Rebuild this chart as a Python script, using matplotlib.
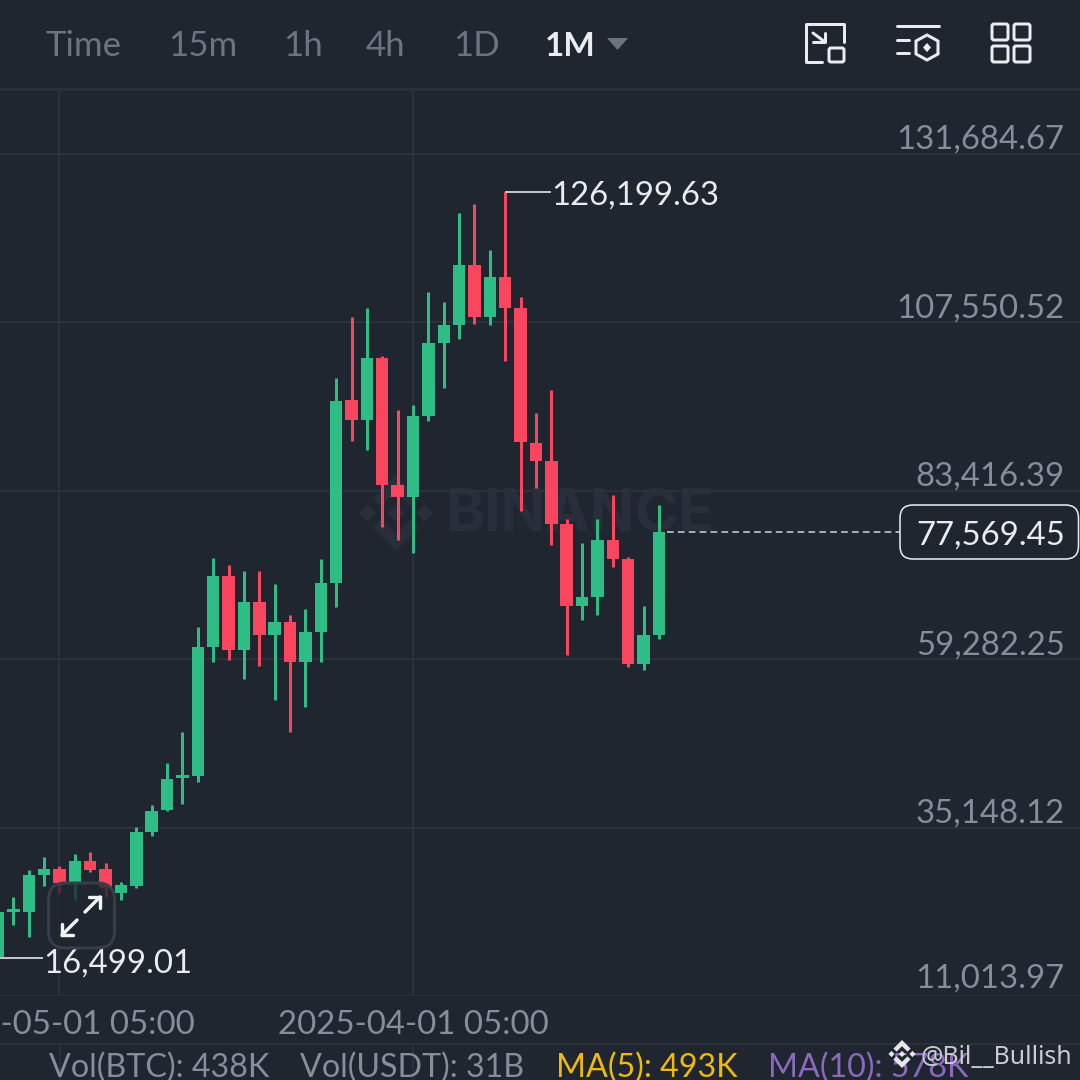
import matplotlib
matplotlib.use("Agg")
import matplotlib.pyplot as plt
from matplotlib.patches import FancyBboxPatch, Polygon
from matplotlib.transforms import Affine2D

FONT = "Lato"
plt.rcParams["font.family"] = [FONT, "DejaVu Sans"]

# ---- data --------------------------------------------------------------
opens = [16600, 23051, 23051, 28353, 29213, 27350, 30360, 29213, 25774, 26777, 34515,
         37668, 42254, 42540, 61026, 71200, 60596, 67474, 62745, 64608, 58876, 63175,
         70197, 96421, 93555, 102440, 84240, 82521, 94128, 104589, 107168, 115766,
         108315, 114047, 109605, 90259, 87680, 78652, 66901, 68191, 76359, 73636,
         58590, 62745]
highs = [23200, 25201, 29070, 30933, 29643, 31363, 31649, 30073, 27350, 35232, 38384,
         44403, 48845, 63892, 73780, 72776, 71917, 71917, 70054, 65611, 66471, 73636,
         99574, 108315, 109605, 102726, 94988, 95704, 111897, 110464, 123218, 124508,
         117916, 126199.63, 111181, 94558, 97854, 79368, 75929, 79368, 82807, 73923,
         66901, 81374]
lows = [16499.01, 21188, 19469, 26777, 25774, 24771, 28783, 25201, 24771, 26491, 33942,
        37525, 38528, 41680, 58876, 59163, 56440, 58303, 53431, 48845, 52428, 58876,
        66758, 90546, 89256, 78222, 76359, 74496, 93412, 98141, 105162, 107312,
        107168, 102010, 80515, 83811, 75642, 59879, 64895, 65611, 72490, 58160,
        57730, 62172]
closes = [23051, 23481, 28353, 29213, 27207, 30360, 29070, 26491, 26920, 34515, 37525,
          42110, 42683, 61026, 71200, 60596, 67474, 62745, 64608, 58876, 63175, 70197,
          96278, 93555, 102440, 84240, 82521, 94128, 104589, 107168, 115766, 108315,
          114047, 109605, 90402, 87680, 78652, 66901, 68191, 76359, 73636, 58590,
          62745, 77569.45]

price_levels = [131684.67, 107550.52, 83416.39, 59282.25, 35148.12, 11013.97]
date_ticks = [4, 27]
date_labels = ["2023-05-01 05:00", "2025-04-01 05:00"]
last_price = 77569.45
max_price = 126199.63
min_price = 16499.01
tabs = ["Time", "15m", "1h", "4h", "1D"]
legend_items = ["Vol(BTC): 438K", "Vol(USDT): 31B", "MA(5): 493K", "MA(10): 578K"]

# ---- palette -----------------------------------------------------------
BG = "#1F2630"
GRID = "#2B313C"
GREEN = "#2EBD85"
RED = "#F9455E"
GREY = "#868E9B"
TAB = "#6C7480"
WHITE = "#EAECEF"
PX = 0.72  # one pixel in points at dpi 100
NUM = 23.7

fig = plt.figure(figsize=(10.8, 10.8), dpi=100, facecolor=BG)

# background layer in pixels: watermark
bg = fig.add_axes([0, 0, 1, 1], zorder=0)
bg.set_xlim(0, 1080); bg.set_ylim(1080, 0); bg.axis("off")
bg.set_facecolor(BG)


def binance_logo(ax, cx, cy, s, color, z=1):
    """Binance mark centred at cx, cy; s is half of the total height."""
    k = s / 36.0
    d = lambda x, y, r: Polygon([(x, y - r), (x + r, y), (x, y + r), (x - r, y)],
                                closed=True, fc=color, ec="none", zorder=z)
    ax.add_patch(d(cx, cy, 8 * k))
    ax.add_patch(d(cx - 27 * k, cy, 8 * k))
    ax.add_patch(d(cx + 27 * k, cy, 8 * k))
    for sgn in (-1, 1):
        pts = [(cx, cy + sgn * 36 * k), (cx + 22 * k, cy + sgn * 14 * k),
               (cx + 14 * k, cy + sgn * 6 * k), (cx, cy + sgn * 20 * k),
               (cx - 14 * k, cy + sgn * 6 * k), (cx - 22 * k, cy + sgn * 14 * k)]
        ax.add_patch(Polygon(pts, closed=True, fc=color, ec="none", zorder=z))


binance_logo(bg, 396, 513, 38, "#292F3A")
bg.text(445, 532, "BINANCE", color="#292F3A", fontsize=42.5, fontweight="bold",
        ha="left", va="baseline", family=["Inter", "DejaVu Sans"])

# chart layer, scaled in candle index and price
TOP, BOT = 90, 996
STEP = (price_levels[0] - price_levels[1]) / 168.4
ax = fig.add_axes([0, (1080 - BOT) / 1080, 1, (BOT - TOP) / 1080], zorder=1)
ax.patch.set_alpha(0)
ax.set_xlim(2 / 15.37, 1082 / 15.37)
ax.set_ylim(price_levels[-1], price_levels[-1] + (BOT - TOP) * STEP)
for s in ax.spines.values():
    s.set_visible(False)

ax.set_xticks(date_ticks, labels=date_labels)
ax.set_yticks(price_levels, labels=[f"{v:,.2f}" for v in price_levels])
ax.grid(True, color=GRID, lw=2 * PX, zorder=0)
ax.set_axisbelow(True)
ax.tick_params(axis="x", length=0, pad=10.2, labelsize=NUM + 0.1, labelcolor=GREY)
ax.tick_params(axis="y", length=0, pad=-11, labelsize=NUM, labelcolor=GREY,
               labelleft=False, labelright=True, left=False, right=False)
for t, v in zip(ax.yaxis.get_major_ticks(), price_levels):
    t.label2.set_ha("right")
    t.label2.set_va("baseline")
    lift = 8 if v == price_levels[-1] else 5
    t.label2.set_transform(t.label2.get_transform() + Affine2D().translate(0, lift))

idx = list(range(len(opens)))
cols = [GREEN if c >= o else RED for o, c in zip(opens, closes)]
ax.vlines(idx, lows, highs, colors=cols, lw=3 * PX, zorder=3)
ax.bar(idx, [abs(c - o) for o, c in zip(opens, closes)],
       bottom=[min(o, c) for o, c in zip(opens, closes)],
       width=0.81, color=cols, lw=0, zorder=4)

# last price guide
ax.hlines(last_price, 43.5, 58.7, colors="#C9CBD0", lw=1.6 * PX,
          linestyles=(0, (4.2, 2.6)), zorder=3)

# extreme markers
ax.hlines(max_price, 33, 36.0, colors=WHITE, lw=1.6 * PX, zorder=5)
ax.text(35.98, max_price, f"{max_price:,.2f}", color=WHITE, fontsize=NUM,
        ha="left", va="center_baseline", zorder=5)
ax.hlines(min_price, 0.13, 2.93, colors=WHITE, lw=1.6 * PX, zorder=5)
ax.text(2.94, min_price - 2.5 * STEP, f"{min_price:,.2f}", color=WHITE, fontsize=NUM,
        ha="left", va="center_baseline", zorder=5)

# foreground layer in pixels: interface chrome
ui = fig.add_axes([0, 0, 1, 1], zorder=2)
ui.set_xlim(0, 1080); ui.set_ylim(1080, 0); ui.axis("off")
ui.patch.set_alpha(0)

ui.plot([0, 1080], [89, 89], color=GRID, lw=3 * PX, solid_capstyle="butt")
ui.plot([0, 1080], [1044, 1044], color=GRID, lw=2 * PX, solid_capstyle="butt")
for xv in (59.5, 413):
    ui.plot([xv, xv], [1044, 1080], color=GRID, lw=2 * PX, solid_capstyle="butt")

tab_x = [46, 168, 283, 366, 453]
for x, label in zip(tab_x, tabs):
    ui.text(x, 56, label, color=TAB, fontsize=25, ha="left", va="baseline")
ui.text(545, 56, "1M", color=WHITE, fontsize=24, fontweight="bold", ha="left", va="baseline")
ui.add_patch(Polygon([(607, 38), (628, 38), (617.5, 50)], closed=True, fc=TAB, ec="none"))

# top-right icons
ic = dict(color=WHITE, lw=3 * PX, solid_capstyle="round", solid_joinstyle="round")
ui.plot([822, 806, 806, 844, 844], [62, 62, 24, 24, 42], **ic)
ui.add_patch(FancyBboxPatch((829, 48), 15, 14, boxstyle="round,pad=0,rounding_size=2",
                            fc="none", ec=WHITE, lw=3 * PX))
ui.plot([813, 825], [33, 42], **ic)
ui.plot([813, 825, 825], [42, 42, 33], **ic)
ui.plot([897, 939], [26, 26], **ic)
ui.plot([897, 909], [40, 40], **ic)
ui.plot([897, 909], [53, 53], **ic)
ui.add_patch(Polygon([(927, 35), (938, 41), (938, 54), (927, 60), (916, 54), (916, 41)],
                     closed=True, fc="none", ec=WHITE, lw=3 * PX))
ui.add_patch(Polygon([(927, 43), (931, 47.5), (927, 52), (923, 47.5)], closed=True, fc=WHITE, ec="none"))
for x0 in (992, 1014):
    for y0 in (24, 46):
        ui.add_patch(FancyBboxPatch((x0, y0), 16, 16, boxstyle="round,pad=0,rounding_size=2",
                                    fc="none", ec=WHITE, lw=3 * PX))

# last price badge
ui.add_patch(FancyBboxPatch((900, 505), 178.5, 54, boxstyle="round,pad=0,rounding_size=13",
                            fc=BG, ec="#E4E6EA", lw=1.6 * PX, zorder=6))
ui.text(990.5, 533, f"{last_price:,.2f}", color=WHITE, fontsize=NUM, ha="center",
        va="center_baseline", zorder=7)

# expand button
ui.add_patch(FancyBboxPatch((48.5, 883), 66, 65, boxstyle="round,pad=0,rounding_size=17",
                            fc=(0x1F / 255, 0x26 / 255, 0x30 / 255, 0.78), ec="#383E49", lw=3 * PX, zorder=6))
ar = dict(color="#F2F3F5", lw=3.4 * PX, solid_capstyle="round", solid_joinstyle="miter", zorder=7)
ui.plot([85, 100], [912, 897], **ar)
ui.plot([89, 100, 100], [897, 897, 908], **ar)
ui.plot([77, 62], [920, 935], **ar)
ui.plot([62, 62, 73], [924, 935, 935], **ar)

# bottom indicator legend
leg_x = [49, 300, 556, 768]
leg_c = [GREY, GREY, "#F0B90B", "#8C69BE"]
for x, label, c in zip(leg_x, legend_items, leg_c):
    ui.text(x, 1077, label, color=c, fontsize=23.2, ha="left", va="baseline", zorder=3)

# platform watermark
binance_logo(ui, 902, 1054, 14, "#E6E7EA", z=8)
ui.text(921, 1064, "@Bil__Bullish", color="#C9CBD0", fontsize=17.9, ha="left", va="baseline",
        family=["Noto Sans", "DejaVu Sans"], zorder=8)

fig.savefig("out.png", dpi=100, facecolor=BG)
